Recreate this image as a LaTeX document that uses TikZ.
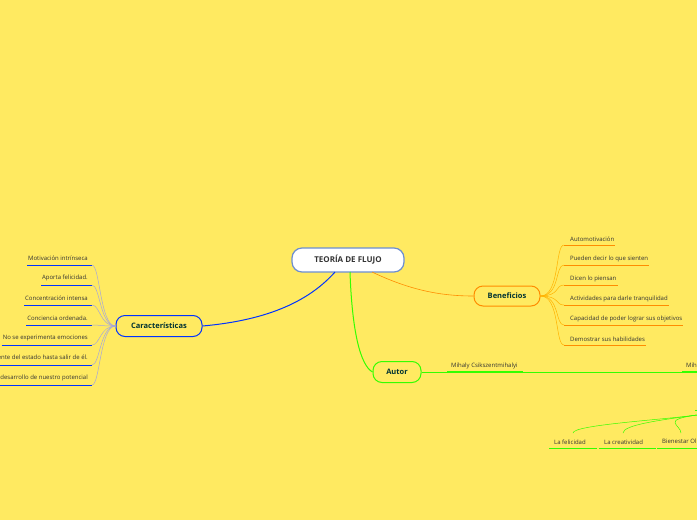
\documentclass[tikz,border=0pt]{standalone}
\usepackage{fontspec}
\setmainfont{Open Sans}
\begin{document}
\begin{tikzpicture}[x=1pt,y=-1pt,
 leaf/.style={font=\fontsize{6}{7}\selectfont, text=black!80, inner sep=1pt},
 topic/.style={draw, rounded corners=9pt, line width=1pt, font=\bfseries\fontsize{7.5}{9}\selectfont, text=teal!40!black, minimum height=21pt},
 blueline/.style={draw=blue!80!cyan, line width=1pt},
 orline/.style={draw=orange!90!yellow, line width=1pt},
 grline/.style={draw=green!80!yellow, line width=1pt}]
\definecolor{bg}{HTML}{FFEA61}
\useasboundingbox (0,0) rectangle (697,520);
\clip (0,0) rectangle (697,520);
\fill[bg] (0,0) rectangle (697,520);
% central
\node[draw=cyan!40!blue!60, line width=1.2pt, fill=white, rounded corners=10pt, minimum width=112pt, minimum height=24pt, font=\bfseries\fontsize{8}{9}\selectfont, text=black!80] (c) at (348,260) {TEORÍA DE FLUJO};
% Caracteristicas
\node[topic, draw=blue!80!cyan, fill=bg, minimum width=86pt] (car) at (159,326) {Características};
\draw[blueline] (car.east) .. controls (270,320) and (310,300) .. (335,272);
\foreach \t [count=\i] in {Motivación intrínseca,Aporta felicidad.,Concentración intensa,Conciencia ordenada.,No se experimenta emociones,Permanecer en la zona pendiente del estado hasta salir de él.,Permite el desarrollo de nuestro potencial} {
  \pgfmathsetmacro{\yy}{245+20*\i}
  \node[leaf, anchor=south east] (k\i) at (89,\yy-3) {\t};
  \draw[blueline] (k\i.south west |- 0,\yy) coordinate (u\i) -- (92,\yy);
  \draw[draw=gray!60!blue!50, line width=0.5pt] (car.west) .. controls (100,326) and (100,\yy) .. (92,\yy);
}
% Beneficios
\node[topic, draw=orange!90!yellow, fill=bg, minimum width=66pt, minimum height=20pt] (ben) at (507,296) {Beneficios};
\coordinate (cb) at (372,272);
\draw[orline, line width=0.6pt] (cb) .. controls (410,290) and (440,296) .. (ben.west);
\foreach \t [count=\i] in {Automotivación,Pueden decir lo que sienten,Dicen lo piensan,Actividades para darle tranquilidad,Capacidad de poder lograr sus objetivos,Demostrar sus habilidades} {
  \pgfmathsetmacro{\yy}{225+20*\i}
  \node[leaf, anchor=south west] (b\i) at (569,\yy-2) {\t};
  \draw[orline] (564,\yy) -- (b\i.south east |- 0,\yy);
  \draw[draw=orange!60!yellow, line width=0.5pt] (ben.east) .. controls (560,296) and (555,\yy) .. (564,\yy);
}
% Autor
\node[topic, draw=green!80!yellow, fill=bg, minimum width=48pt] (aut) at (397,372) {Autor};
\draw[grline] (350,272) .. controls (352,330) and (360,365) .. (aut.west);
\node[leaf, anchor=south west] (m1) at (450,370) {Mihaly Csikszentmihalyi};
\draw[grline, line width=1.2pt] (447,372) -- (523,372);
\draw[grline, line width=0.5pt] (aut.east) -- (682,372);
\node[leaf, anchor=south west] (m2) at (685,370) {Mihaly};
\draw[grline, line width=1.2pt] (682,372) -- (697,372);
\draw[grline] (695,410) -- (697,410);
\foreach \t/\x/\w in {La felicidad/551/46,La creatividad/601/55,Bienestar Olímpico/659/60} {
  \node[leaf, anchor=south west] (f\x) at (\x+2,446) {\t};
  \draw[grline] (\x-2,448) -- (\x+\w,448);
  \draw[grline, line width=0.5pt] (\x+22,433) .. controls (\x+22,425) and (660,420) .. (697,415);
}
\end{tikzpicture}
\end{document}
